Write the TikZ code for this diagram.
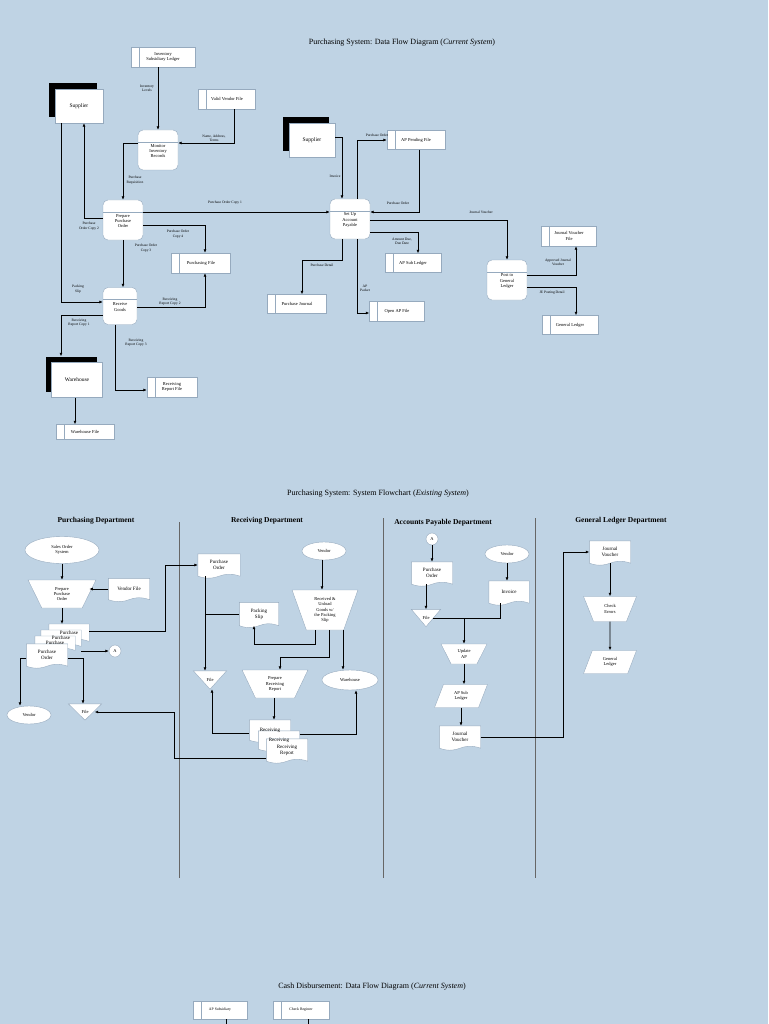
\documentclass[tikz,border=0pt]{standalone}
\usepackage{fontspec}
\setmainfont{Liberation Serif}
\usetikzlibrary{arrows.meta,shapes.geometric,shadows,calc,backgrounds}
\definecolor{bgc}{RGB}{191,211,228}
\definecolor{edgec}{RGB}{150,170,190}
\newcommand\docsh[1]{\begin{scope}[on background layer]\filldraw[fill=white,draw=edgec,line width=0.4pt] (#1.north west) -- (#1.north east) -- (#1.south east) .. controls ($(#1.south)+(0,-7)$) and ($(#1.south)+(0,7)$) .. (#1.south west) -- cycle;\end{scope}}
\newcommand\trish[1]{\begin{scope}[on background layer]\filldraw[fill=white,draw=edgec,line width=0.4pt] (#1.north west) -- (#1.north east) -- (#1.south) -- cycle;\end{scope}}
\begin{document}
\begin{tikzpicture}[x=1pt,y=-1pt,
  every node/.style={font=\fontsize{4.5}{5.3}\selectfont, align=center, inner sep=0.5pt},
  ttl/.style={font=\fontsize{8}{9}\selectfont},
  dept/.style={font=\fontsize{7.5}{8.5}\selectfont\bfseries},
  lab/.style={font=\fontsize{3.6}{4.3}\selectfont},
  arr/.style={line width=0.9pt,-{Latex[length=3.5pt,width=3pt]}},
  ln/.style={line width=0.9pt},
  ent/.style={rectangle, fill=white, draw=edgec, minimum width=48, minimum height=34, font=\fontsize{5.5}{6.5}\selectfont,
     general shadow={fill=black, shadow xshift=-6pt, shadow yshift=6pt}},
  store/.style={rectangle, fill=white, draw=edgec, minimum height=20, inner xsep=4pt,
     path picture={\draw[edgec] ([xshift=8pt]path picture bounding box.north west) -- ([xshift=8pt]path picture bounding box.south west);}},
  proc/.style={rectangle, rounded corners=5pt, fill=white, draw=edgec, minimum width=40, minimum height=40,
     path picture={\draw[edgec] ([yshift=-12pt]path picture bounding box.north west) -- ([yshift=-12pt]path picture bounding box.north east);}},
  docn/.style={rectangle, minimum width=41, minimum height=21, font=\fontsize{5}{6}\selectfont},
  tri/.style={rectangle, minimum width=33, minimum height=16, font=\fontsize{4.5}{5}\selectfont},
  ell/.style={ellipse, fill=white, draw=edgec, minimum width=44, minimum height=18},
  trap/.style={trapezium, shape border rotate=180, trapezium stretches=true, fill=white, draw=edgec},
  para/.style={trapezium, trapezium left angle=70, trapezium right angle=110, trapezium stretches=true, fill=white, draw=edgec, minimum width=53, minimum height=23},
  sep/.style={draw=black!60, line width=0.5pt}
]
\begin{scope}[on background layer]\fill[bgc] (0,0) rectangle (768,1024);\end{scope}
\useasboundingbox (0,0) rectangle (768,1024);

% ---------------- DFD ----------------
\node[ttl] (t1) at (402,43) {Purchasing System: Data Flow Diagram (\textit{Current System})};
\node[ent] (sup1) at (79,106) {Supplier};
\node[ent, minimum width=46] (sup2) at (312,140) {Supplier};
\node[ent, minimum width=51, minimum height=35] (wh) at (77,380) {Warehouse};

\node[store, minimum width=64] (isl) at (163,57) {Inventory\\Subsidiary Ledger};
\node[store, minimum width=57] (vvf) at (227,99) {Valid Vendor File};
\node[store, minimum width=59] (pf) at (201,263) {Purchasing File};
\node[store, minimum width=50] (rrf) at (172,387) {Receiving\\Report File};
\node[store, minimum width=58, minimum height=15] (whf) at (85,432) {Warehouse File};
\node[store, minimum width=58, minimum height=19] (apf) at (416,140) {AP Pending File};
\node[store, minimum width=56, minimum height=19] (apsl) at (413,263) {AP Sub Ledger};
\node[store, minimum width=59, minimum height=19] (pj) at (297,304) {Purchase Journal};
\node[store, minimum width=55] (oap) at (397,311) {Open AP File};
\node[store, minimum width=55] (jvf) at (569,236) {Journal Voucher\\File};
\node[store, minimum width=56, minimum height=19] (gl) at (570,325) {General Ledger};

\node[proc] (mon) at (158,150) {\mbox{}\\Monitor\\Inventory\\Records};
\node[proc] (ppo) at (123,220) {\mbox{}\\Prepare\\Purchase\\Order};
\node[proc, minimum width=34, minimum height=37] (rg) at (120,306) {\mbox{}\\Receive\\Goods};
\node[proc] (sap) at (350,219) {\mbox{}\\Set Up\\Account\\Payable};
\node[proc] (pgl) at (507,280) {\mbox{}\\Post to\\General\\Ledger};

\draw[arr] (mon.north |- isl.south) -- (mon.north);
\node[lab] (l1) at (147,88) {Inventory\\Levels};
\draw[arr] (vvf.south -| 234,0) |- (mon.east |- 0,143);
\node[lab] (l2) at (214,138) {Name, Address,\\Terms};
\draw[arr] (mon.west |- 0,143) -| (ppo.north);
\node[lab] (l3) at (135,180) {Purchase\\Requisition};
\draw[arr] (ppo.west |- 0,218) -| (sup1.south -| 84,0);
\node[lab] (l4) at (89,226) {Purchase\\Order Copy 2};
\draw[arr] (ppo.east |- 0,212) -- (sap.west |- 0,212);
\node[lab] (l5) at (225,203) {Purchase Order Copy 1};
\draw[arr] (ppo.east |- 0,225) -| (pf.north -| 205,0);
\node[lab] (l6) at (178,234) {Purchase Order\\Copy 4};
\draw[arr] (ppo.south) -- (ppo.south |- rg.north);
\node[lab] (l7) at (146,248) {Purchase Order\\Copy 3};
\draw[arr] (sup1.south -| 61,0) |- (rg.west |- 0,302);
\node[lab] (l8) at (78,289) {Packing\\Slip};
\draw[arr] (rg.east |- 0,307) -| (pf.south -| 205,0);
\node[lab] (l9) at (170,302) {Receiving\\Report Copy 2};
\draw[arr] (rg.west |- 0,315) -| ([yshift=6pt]wh.north -| 61,0);
\node[lab] (l10) at (79,323) {Receiving\\Report Copy 1};
\draw[arr] (rg.south -| 115,0) |- (rrf.west |- 0,390);
\node[lab] (l11) at (136,343) {Receiving\\Report Copy 3};
\draw[arr] (wh.south -| 75,0) -- (whf.north -| 75,0);

\draw[arr] (sup2.east |- 0,137) -| (sap.north -| 342,0);
\node[lab] (l12) at (335,176) {Invoice};
\draw[arr] (sap.north -| 357,0) |- (apf.west);
\node[lab] (l13) at (377,135) {Purchase Order};
\draw[arr] (apf.south -| 419,0) |- (sap.east |- 0,212);
\node[lab] (l14) at (398,203) {Purchase Order};
\draw[arr] (sap.east |- 0,220) -| (pgl.north);
\node[lab] (l15) at (481,212) {Journal Voucher};
\draw[arr] (sap.east |- 0,232) -| (apsl.north -| 418,0);
\node[lab] (l16) at (402,241) {Amount Due,\\Due Date};
\draw[arr] (sap.south -| 342,0) -- (342,260) -| (pj.north -| 302,0);
\node[lab] (l17) at (322,265) {Purchase Detail};
\draw[arr] (sap.south -| 357,0) |- (oap.west |- 0,313);
\node[lab] (l18) at (365,288) {AP\\Packet};
\draw[arr] (pgl.east |- 0,275) -| (jvf.south -| 576,0);
\node[lab] (l19) at (558,262) {Approved Journal\\Voucher};
\draw[arr] (pgl.east |- 0,287) -| (gl.north -| 576,0);
\node[lab] (l20) at (552,293) {JE Posting Detail};

% ---------------- Flowchart ----------------
\node[ttl] (t2) at (378,494) {Purchasing System: System Flowchart (\textit{Existing System})};
\node[dept] (d1) at (96,521) {Purchasing Department};
\node[dept] (d2) at (267,521) {Receiving Department};
\node[dept] (d3) at (443,523) {Accounts Payable Department};
\node[dept] (d4) at (621,521) {General Ledger Department};
\draw[sep] (179,522) -- (179,878);
\draw[sep] (383,518) -- (383,878);
\draw[sep] (535,518) -- (535,878);

% Purchasing
\node[ell, minimum width=74, minimum height=27] (sos) at (62,550) {Sales Order\\System};
\node[trap, trapezium angle=68, minimum width=68, minimum height=28] (ppo2) at (62,594) {Prepare\\Purchase\\Order};
\node[docn, minimum height=21] (vf) at (129,589) {Vendor File}; \docsh{vf}
\node[docn, minimum width=40, minimum height=17, anchor=north] (pa) at (69,624) {Purchase}; \docsh{pa}
\node[docn, minimum width=40, minimum height=16, anchor=north] (pb) at (61,630) {Purchase}; \docsh{pb}
\node[docn, minimum width=40, minimum height=14, anchor=north] (pc) at (55,636) {Purchase}; \docsh{pc}
\node[docn, minimum height=22] (po1) at (47,655) {Purchase\\Order}; \docsh{po1}
\node[circle, fill=white, draw=edgec, minimum size=12] (ca) at (115,651) {A};
\node[ell] (v1) at (29,715) {Vendor};
\node[tri] (f1) at (85,712) {File}; \trish{f1}
\draw[arr] (sos) -- (ppo2);
\draw[arr] (vf.west) -- (ppo2.east |- vf.west);
\draw[arr] (ppo2.south) -- (ppo2.south |- pa.north);
\draw[arr] (pb.east |- 0,651) -- (ca.west);
\draw[arr] (po1.west |- 0,658) -| (v1.north -| 20,0);
\draw[arr] (po1.east |- 0,658) -| (f1.north -| 83,0);

% Receiving
\node[docn, minimum width=42, minimum height=22] (rpo) at (219,565) {Purchase\\Order}; \docsh{rpo}
\node[ell] (v2) at (324,551) {Vendor};
\node[trap, trapezium angle=72, minimum width=66, minimum height=40] (rug) at (325,610) {Received \&\\Unload\\Goods w/\\the Packing\\Slip};
\node[docn, minimum width=39, minimum height=23] (ps) at (259,614) {Packing\\Slip}; \docsh{ps}
\node[tri, minimum height=18] (f2) at (210,680) {File}; \trish{f2}
\node[trap, trapezium angle=67, minimum width=66, minimum height=28] (prr) at (275,684) {Prepare\\Receiving\\Report};
\node[ell, minimum width=56, minimum height=20] (wh2) at (350,680) {Warehouse};
\node[docn, minimum height=20] (ra) at (270,730) {Receiving}; \docsh{ra}
\node[docn, minimum height=18] (rb) at (279,740) {Receiving}; \docsh{rb}
\node[docn, minimum height=22] (rr3) at (287,750) {Receiving\\Report}; \docsh{rr3}
\draw[arr] (rpo.south -| 205,0) -- (f2.north -| 205,0);
\draw[ln] (ps.west) -- (ps.west -| 205,0);
\draw[arr] (v2.south -| 322,0) -- (rug.north -| 322,0);
\draw[arr] (rug.south -| 315,0) -- (315,644) -| (ps.south -| 254,0);
\draw[arr] (rug.south -| 329,0) -- (329,657) -| (prr.north -| 280,0);
\draw[arr] (rug.south -| 343,0) -- (wh2.north -| 343,0);
\draw[arr] (prr.south -| 274,0) -- (ra.north -| 274,0);
\draw[arr] (ra.west |- 0,733) -| (f2.south -| 212,0);
\draw[arr] (rb.east |- 0,734) -| (wh2.south -| 356,0);
\draw[arr] (rr3.west |- 0,758) -| (174,712) -- ([xshift=-7pt]f1.east);
\draw[arr] (pa.east |- 0,631) -- (165,631) |- (rpo.west);

% Accounts payable
\node[circle, fill=white, draw=edgec, minimum size=12] (ca2) at (432,539) {A};
\node[docn, minimum height=22] (apo) at (432,573) {Purchase\\Order}; \docsh{apo}
\node[ell] (v3) at (507,554) {Vendor};
\node[docn, minimum width=40, minimum height=22] (inv) at (509,592) {Invoice}; \docsh{inv}
\node[tri, minimum width=29, minimum height=17] (f3) at (426,618) {File}; \trish{f3}
\node[trap, trapezium angle=60, minimum width=46, minimum height=20] (uap) at (464,654) {Update\\AP};
\node[para] (apsl2) at (461,696) {AP Sub\\Ledger};
\node[docn, minimum height=22] (jv1) at (460,737) {Journal\\Voucher}; \docsh{jv1}
\draw[arr] (ca2) -- (apo);
\draw[arr] (apo.south -| 426,0) -- (f3.north -| 426,0);
\draw[arr] (v3.south) -- (v3.south |- inv.north);
\draw[ln] ($(f3.south)!0.5!(f3.north east)$) -| (inv.south -| 500,0);
\draw[arr] (uap.north |- f3.east) -- (uap.north);
\draw[arr] (uap.south) -- (uap.south |- apsl2.north);
\draw[arr] (apsl2.south) -- (apsl2.south |- jv1.north);

% General ledger
\node[docn, minimum height=22] (gjv) at (610,552) {Journal\\Voucher}; \docsh{gjv}
\node[trap, trapezium angle=68, minimum width=53, minimum height=25] (ce) at (610,609) {Check\\Errors};
\node[para] (gl2) at (610,662) {General\\Ledger};
\draw[arr] (jv1.east) -- (jv1.east -| 563,0) |- (gjv.west);
\draw[arr] (gjv.south) -- (gjv.south |- ce.north);
\draw[arr] (ce.south) -- (gl2.north);

% ---------------- Cash disbursement ----------------
\node[ttl] (t3) at (372,987) {Cash Disbursement: Data Flow Diagram (\textit{Current System})};
\node[store, minimum width=54, minimum height=18, font=\fontsize{3.8}{4.5}\selectfont] (aps) at (220,1010) {AP Subsidiary};
\node[store, minimum width=56, minimum height=18, font=\fontsize{3.8}{4.5}\selectfont] (cr) at (301,1010) {Check Register};
\coordinate (e1) at (226,1026);
\coordinate (e2) at (308,1026);
\draw[ln] (aps.south -| e1) -- (e1);
\draw[ln] (cr.south -| e2) -- (e2);
\end{tikzpicture}
\end{document}
